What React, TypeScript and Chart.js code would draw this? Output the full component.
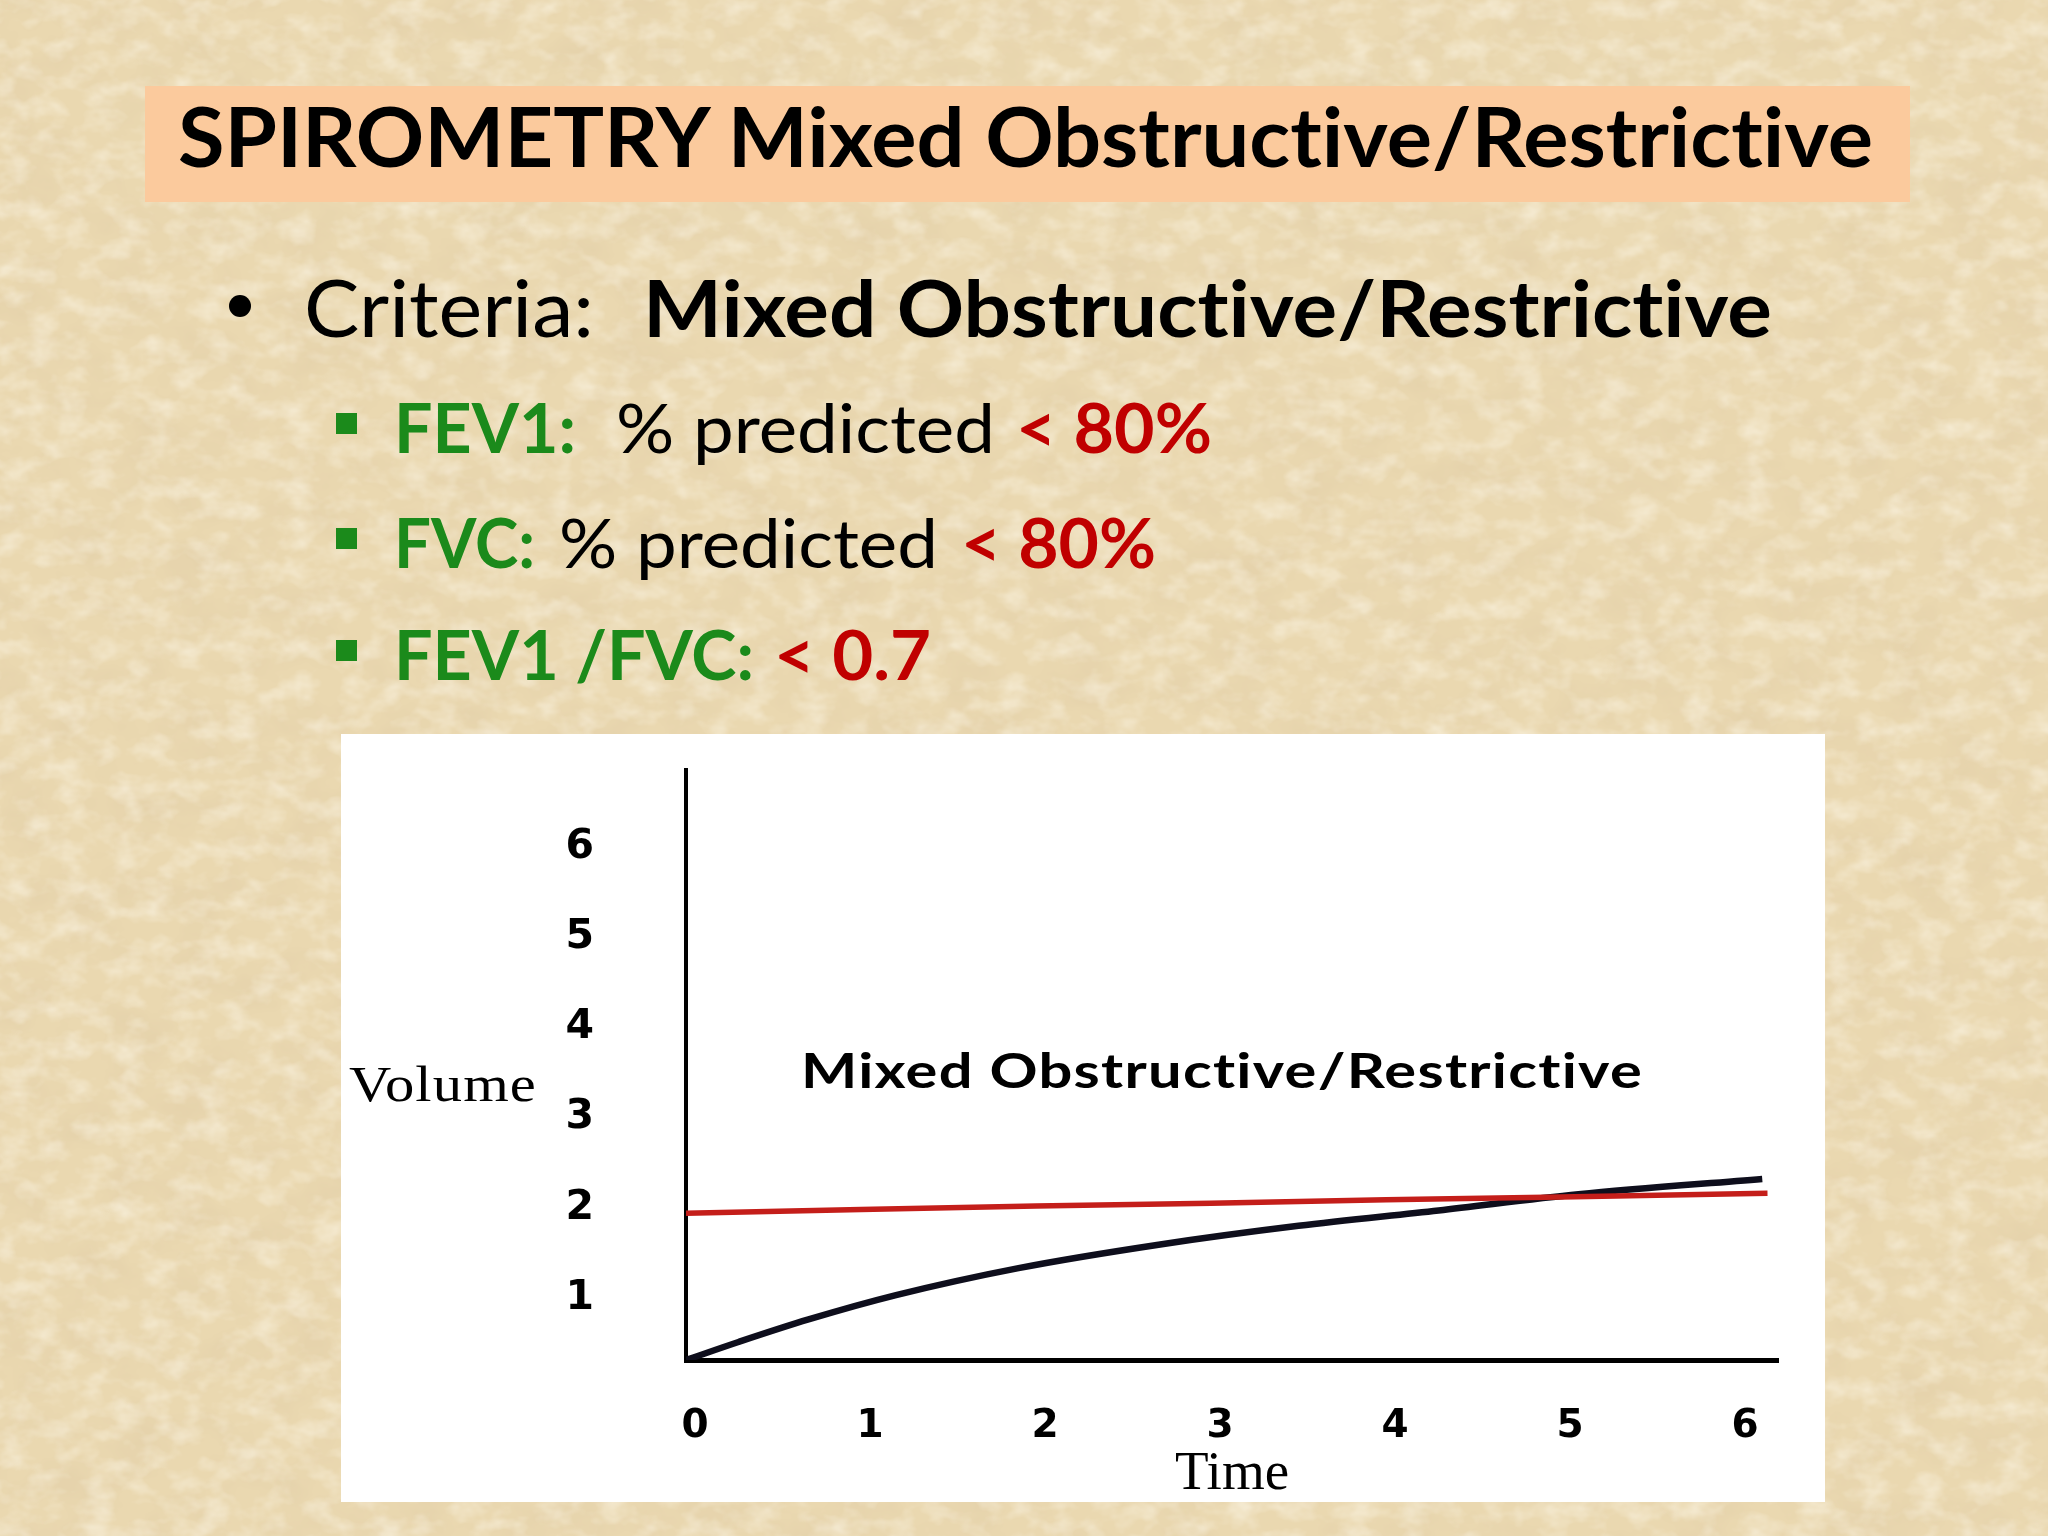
import React, { useEffect, useRef } from 'react';
import { Chart, registerables } from 'chart.js';

Chart.register(...registerables);

// ---- data ----
const timeMixed = [0, 0.3, 0.7, 1.2, 1.9, 2.7, 3.5, 4.3, 5.1, 6.15];
const volumeMixed = [0, 0.2, 0.45, 0.72, 1.02, 1.28, 1.49, 1.66, 1.84, 2.01];
const timeNormalRef = [0, 1, 2, 3, 4, 5, 6.18];
const volumeNormalRef = [1.63, 1.67, 1.71, 1.74, 1.78, 1.81, 1.85];
const xTickValues = [0, 1, 2, 3, 4, 5, 6];
const yTickValues = [1, 2, 3, 4, 5, 6];
const xAxisTitle = 'Time';
const yAxisTitle = 'Volume';
const chartCaption = 'Mixed Obstructive/Restrictive';

const GREEN = '#1B8A1B';
const RED = '#C00000';

function drawFitted(ctx: CanvasRenderingContext2D, text: string, font: string, x: number, y: number, width: number) {
  ctx.save();
  ctx.font = font;
  (ctx as any).letterSpacing = '1px';
  ctx.fillStyle = '#000';
  ctx.textAlign = 'left';
  ctx.textBaseline = 'alphabetic';
  const w = ctx.measureText(text).width || 1;
  ctx.translate(x, y);
  ctx.scale(width / w, 1);
  ctx.fillText(text, 0, 0);
  ctx.restore();
}

const labelsPlugin = {
  id: 'slideLabels',
  afterDraw(chart: any) {
    const ctx = chart.ctx as CanvasRenderingContext2D;
    drawFitted(ctx, chartCaption, 'bold 47px Lato', 460, 354, 842);
    drawFitted(ctx, yAxisTitle, '51px "Liberation Serif"', 8, 367, 188);
  },
};

function ChartBox() {
  const ref = useRef<HTMLCanvasElement>(null);
  useEffect(() => {
    if (!ref.current) return;
    const chart = new Chart(ref.current, {
      type: 'line',
      data: {
        datasets: [
          {
            label: 'Predicted',
            data: timeNormalRef.map((t, i) => ({ x: t, y: volumeNormalRef[i] })),
            borderColor: '#C41E1A',
            borderWidth: 5.5,
            pointRadius: 0,
            tension: 0,
          },
          {
            label: 'Mixed',
            data: timeMixed.map((t, i) => ({ x: t, y: volumeMixed[i] })),
            borderColor: '#0E0E1C',
            borderWidth: 6.5,
            pointRadius: 0,
            cubicInterpolationMode: 'monotone',
          },
        ],
      },
      options: {
        animation: false,
        responsive: false,
        events: [],
        layout: { padding: { left: 0, top: 36, right: 47, bottom: 0 } },
        plugins: { legend: { display: false }, tooltip: { enabled: false } },
        scales: {
          x: {
            type: 'linear',
            min: 0,
            max: 6.24,
            grid: { display: false, drawTicks: false },
            border: { display: true, color: '#000', width: 5 },
            afterBuildTicks: (s: any) => {
              s.ticks = xTickValues.map((v) => ({ value: v }));
            },
            afterFit: (s: any) => {
              s.height = 142;
              s.paddingLeft = 0;
              s.paddingRight = 0;
            },
            ticks: {
              padding: 43,
              labelOffset: 9,
              color: '#000',
              autoSkip: false,
              maxRotation: 0,
              font: { family: 'DejaVu Sans', size: 39, weight: 'bold' },
              callback: (v: any) => String(v),
            },
            title: {
              display: true,
              text: xAxisTitle,
              color: '#000',
              font: { family: 'Liberation Serif', size: 55, lineHeight: 1 },
              padding: { top: 0, bottom: 0 },
            },
          },
          y: {
            type: 'linear',
            min: 0,
            max: 6.55,
            grid: { display: false, drawTicks: false },
            border: { display: true, color: '#000', width: 4 },
            afterBuildTicks: (s: any) => {
              s.ticks = yTickValues.map((v) => ({ value: v }));
            },
            afterFit: (s: any) => {
              s.width = 345;
              s.paddingTop = 0;
              s.paddingBottom = 0;
            },
            ticks: {
              padding: 92,
              labelOffset: 28,
              color: '#000',
              autoSkip: false,
              font: { family: 'DejaVu Sans', size: 41, weight: 'bold' },
              callback: (v: any) => String(v),
            },
          },
        },
      } as any,
      plugins: [labelsPlugin],
    });
    return () => chart.destroy();
  }, []);
  return (
    <div style={{ position: 'absolute', left: 341, top: 734, width: 1484, height: 768, background: '#fff' }}>
      <canvas ref={ref} width={1484} height={768} style={{ display: 'block', width: 1484, height: 768 }} />
    </div>
  );
}

function T(props: { x: number; y: number; w: number; size: number; bold?: boolean; color?: string; children: string }) {
  return (
    <text
      x={props.x}
      y={props.y}
      textLength={props.w}
      lengthAdjust="spacingAndGlyphs"
      fontFamily="Lato, 'Open Sans', sans-serif"
      fontWeight={props.bold ? 700 : 400}
      fontSize={props.size}
      fill={props.color || '#000'}
      style={{ fontVariantLigatures: 'none' }}
    >
      {props.children}
    </text>
  );
}

export default function App() {
  return (
    <div style={{ position: 'absolute', left: 0, top: 0, width: 2048, height: 1536, overflow: 'hidden' }}>
      <svg width={2048} height={1536} style={{ position: 'absolute', left: 0, top: 0 }}>
        <defs>
          <filter id="parchDark" x="0" y="0" width="100%" height="100%">
            <feTurbulence type="fractalNoise" baseFrequency="0.018 0.024" numOctaves={4} seed={7} />
            <feColorMatrix type="matrix" values="0 0 0 0 0.74  0 0 0 0 0.60  0 0 0 0 0.38  0.9 0 0 0 -0.36" />
          </filter>
          <filter id="parchLight" x="0" y="0" width="100%" height="100%">
            <feTurbulence type="fractalNoise" baseFrequency="0.035 0.05" numOctaves={3} seed={21} />
            <feColorMatrix type="matrix" values="0 0 0 0 1  0 0 0 0 0.97  0 0 0 0 0.88  0 1.0 0 0 -0.42" />
          </filter>
        </defs>
        <rect x={0} y={0} width={2048} height={1536} fill="#EAD8B0" />
        <rect x={0} y={0} width={2048} height={1536} fill="#000" filter="url(#parchDark)" />
        <rect x={0} y={0} width={2048} height={1536} fill="#000" filter="url(#parchLight)" />

        <rect x={145} y={86} width={1765} height={116} fill="#FBCA9D" />
        <T x={178} y={167} w={1695} size={82} bold>SPIROMETRY Mixed Obstructive/Restrictive</T>

        <circle cx={240} cy={306} r={11} fill="#000" />
        <T x={304} y={337} w={290} size={79}>Criteria:</T>
        <T x={643} y={337} w={1129} size={79} bold>Mixed Obstructive/Restrictive</T>

        <rect x={336} y={413} width={21} height={21} fill={GREEN} />
        <T x={394} y={453} w={182} size={68} bold color={GREEN}>FEV1:</T>
        <T x={616} y={453} w={379} size={68}>% predicted</T>
        <T x={1016} y={453} w={196} size={68} bold color={RED}>&lt; 80%</T>

        <rect x={336} y={528} width={21} height={21} fill={GREEN} />
        <T x={394} y={568} w={141} size={68} bold color={GREEN}>FVC:</T>
        <T x={559} y={568} w={379} size={68}>% predicted</T>
        <T x={961} y={568} w={195} size={68} bold color={RED}>&lt; 80%</T>

        <rect x={336} y={640} width={21} height={21} fill={GREEN} />
        <T x={394} y={680} w={360} size={68} bold color={GREEN}>FEV1 /FVC:</T>
        <T x={774} y={680} w={157} size={68} bold color={RED}>&lt; 0.7</T>
      </svg>
      <ChartBox />
    </div>
  );
}
